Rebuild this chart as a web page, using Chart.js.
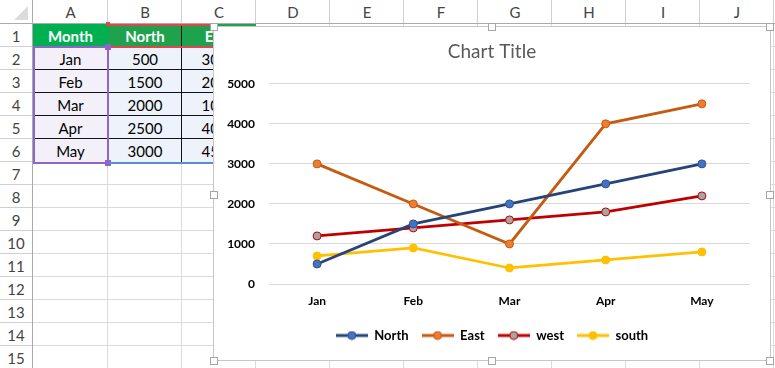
<!DOCTYPE html>
<html>
<head>
<meta charset="utf-8">
<script src="https://cdn.jsdelivr.net/npm/chart.js@4"></script>
<style>
  html, body { margin: 0; padding: 0; background: #fff; }
  body { width: 775px; height: 368px; position: relative; overflow: hidden; font-family: Lato, "Open Sans", sans-serif; }
  .c { position: absolute; box-sizing: border-box; display: flex; align-items: center; justify-content: center; font-size: 15px; color: #000; }
  .hd { color: #444; }
  .ln { position: absolute; }
  #frame { position: absolute; left: 213px; top: 26px; width: 558px; height: 335px; box-sizing: border-box; border: 1px solid #c6c6c6; background: #fff; }
  #chart { position: absolute; left: 1px; top: 1px; }
  .hnd { position: absolute; width: 6px; height: 6px; background: #fff; border: 1px solid #a6a6a6; }
</style>
</head>
<body>
<div id="sheet"></div>
<div id="frame">
  <canvas id="chart" width="554" height="332"></canvas>
</div>
<script>
const months = ['Jan', 'Feb', 'Mar', 'Apr', 'May'];
const north = [500, 1500, 2000, 2500, 3000];
const east = [3000, 2000, 1000, 4000, 4500];
const west = [1200, 1400, 1600, 1800, 2200];
const south = [700, 900, 400, 600, 800];
const seriesNames = ['North', 'East', 'west', 'south'];
const yTicks = [0, 1000, 2000, 3000, 4000, 5000];

// ---- spreadsheet backdrop ----
const sheet = document.getElementById('sheet');
const colX = [0, 33, 108, 182, 256, 330, 404, 478, 552, 626, 700, 774];
const colNames = ['A', 'B', 'C', 'D', 'E', 'F', 'G', 'H', 'I', 'J'];
const rowY = r => 24 + (r - 1) * 23; // top of row r (1-based)

function box(x, y, w, h, style, text, cls) {
  const d = document.createElement('div');
  d.className = cls || 'c';
  Object.assign(d.style, { left: x + 'px', top: y + 'px', width: w + 'px', height: h + 'px' }, style || {});
  if (text !== undefined) d.textContent = text;
  sheet.appendChild(d);
  return d;
}
function line(x, y, w, h, color) {
  return box(x, y, w, h, { background: color }, undefined, 'ln');
}

// grid lines
for (let i = 2; i < colX.length; i++) line(colX[i] - 1, 24, 1, 368, '#dadada');
for (let r = 1; r <= 15; r++) line(33, rowY(r) + 22, 742, 1, '#dadada');

// data fills
box(33, rowY(1), 75, 23, { background: '#00b050', color: '#fff', fontWeight: 'bold' }, 'Month');
box(108, rowY(1), 74, 23, { background: '#1ea24e', color: '#fff', fontWeight: 'bold' }, seriesNames[0]);
box(182, rowY(1), 74, 23, { background: '#1ea24e', color: '#fff', fontWeight: 'bold' }, seriesNames[1]);
months.forEach((m, i) => {
  const y = rowY(i + 2);
  box(33, y, 75, 23, { background: '#f3f0f9' }, m);
  box(108, y, 74, 23, { background: '#edf2fb' }, String(north[i]));
  box(182, y, 74, 23, { background: '#edf2fb' }, String(east[i]));
  if (i < 4) line(33, y + 22, 223, 1, '#111');
});
line(181, rowY(1), 1, 139, '#111');

// headers
box(0, 0, 775, 24, { background: '#fff' }, undefined, 'ln');
line(0, 23, 775, 1, '#ababab');
for (let i = 0; i < colNames.length; i++) {
  box(colX[i + 1], 0, colX[i + 2] - colX[i + 1], 23, {}, colNames[i], 'c hd');
  line(colX[i + 2] - 1, 0, 1, 23, '#d0d0d0');
}
box(0, 24, 33, 344, { background: '#fff' }, undefined, 'ln');
line(32, 0, 1, 368, '#ababab');
for (let r = 1; r <= 15; r++) {
  box(0, rowY(r), 32, 23, {}, String(r), 'c hd');
  line(0, rowY(r) + 22, 32, 1, '#d0d0d0');
}
// corner triangle
box(14, 6, 0, 0, { borderLeft: '14px solid transparent', borderBottom: '14px solid #dcdcdc' }, undefined, 'ln');

// range highlight borders
line(108, 24, 110, 2, '#e0474c');
line(108, 46, 110, 2, '#e0474c');
line(106, 22, 4, 4, '#e0474c');
line(33, 46, 75, 2, '#8f66c8');
line(33, 162, 75, 2, '#8f66c8');
line(33, 46, 2, 118, '#8f66c8');
line(107, 46, 2, 118, '#8f66c8');
line(105, 44, 6, 6, '#8f66c8');
line(105, 160, 6, 6, '#8f66c8');
line(109, 162, 110, 2, '#5b8be0');

// chart frame handles
const frame = document.getElementById('frame');
[[-4, -4], [274, -4], [552, -4], [-4, 164], [552, 164], [-4, 330], [274, 330], [552, 330]].forEach(p => {
  const h = document.createElement('div');
  h.className = 'hnd';
  h.style.left = p[0] + 'px';
  h.style.top = p[1] + 'px';
  frame.appendChild(h);
});

// ---- chart ----
const lineColors = ['#264478', '#c55a11', '#c00000', '#ffc000'];
const pointFills = ['#4472c4', '#ed7d31', '#a5a5a5', '#ffc000'];
const pointEdges = ['#2f528f', '#c55a11', '#c00000', '#ffc000'];
const seriesData = [north, east, west, south];

function legendIcon(i) {
  const c = document.createElement('canvas');
  c.width = 32; c.height = 10;
  const g = c.getContext('2d');
  g.strokeStyle = lineColors[i];
  g.lineWidth = 3;
  g.beginPath(); g.moveTo(0, 5); g.lineTo(32, 5); g.stroke();
  g.fillStyle = pointFills[i];
  g.strokeStyle = pointEdges[i];
  g.lineWidth = 1;
  g.beginPath(); g.arc(16, 5, 4, 0, Math.PI * 2); g.fill(); g.stroke();
  return c;
}
const icons = seriesNames.map((n, i) => legendIcon(i));

const font = 'Lato, "Open Sans", sans-serif';

new Chart(document.getElementById('chart'), {
  type: 'line',
  data: {
    labels: months,
    datasets: seriesNames.map((name, i) => ({
      label: name,
      data: seriesData[i],
      borderColor: lineColors[i],
      backgroundColor: pointFills[i],
      pointBackgroundColor: pointFills[i],
      pointBorderColor: pointEdges[i],
      pointBorderWidth: 1,
      pointRadius: 4,
      borderWidth: 2.75,
      tension: 0,
      fill: false
    }))
  },
  options: {
    responsive: false,
    animation: false,
    devicePixelRatio: 1,
    layout: { padding: { left: 0, right: 0, top: 0, bottom: 8 } },
    plugins: {
      title: {
        display: true,
        text: 'Chart Title',
        color: '#595959',
        font: { family: font, size: 19, weight: 'normal' },
        padding: { top: 12, bottom: 21 }
      },
      legend: {
        position: 'bottom',
        labels: {
          usePointStyle: true,
          pointStyleWidth: 32,
          padding: 13,
          color: '#000',
          font: { family: font, size: 13, weight: 'bold' },
          generateLabels: chart => chart.data.datasets.map((ds, i) => ({
            text: ds.label,
            pointStyle: icons[i],
            fontColor: '#000',
            lineWidth: 0,
            strokeStyle: 'transparent',
            fillStyle: 'transparent',
            datasetIndex: i
          }))
        }
      },
      tooltip: { enabled: false }
    },
    scales: {
      x: {
        offset: true,
        grid: { display: false, drawTicks: false },
        border: { display: false },
        ticks: { color: '#000', font: { family: font, size: 12, weight: 'bold' }, padding: 10 },
        afterFit: s => { s.height = 32; }
      },
      y: {
        min: 0,
        max: 5000,
        afterBuildTicks: s => { s.ticks = yTicks.map(v => ({ value: v })); },
        grid: { color: '#d9d9d9', drawTicks: false },
        border: { display: false },
        ticks: {
          color: '#000',
          font: { family: font, size: 12, weight: 'bold' },
          padding: 14,
          callback: v => String(v)
        },
        afterFit: s => { s.width = 54; }
      },
      // empty right-hand spacer so the title and legend centre on the full frame
      yRight: {
        position: 'right',
        min: 0,
        max: 5000,
        grid: { display: false, drawTicks: false },
        border: { display: false },
        ticks: { display: false },
        afterFit: s => { s.width = 19; }
      }
    }
  }
});
</script>
</body>
</html>
